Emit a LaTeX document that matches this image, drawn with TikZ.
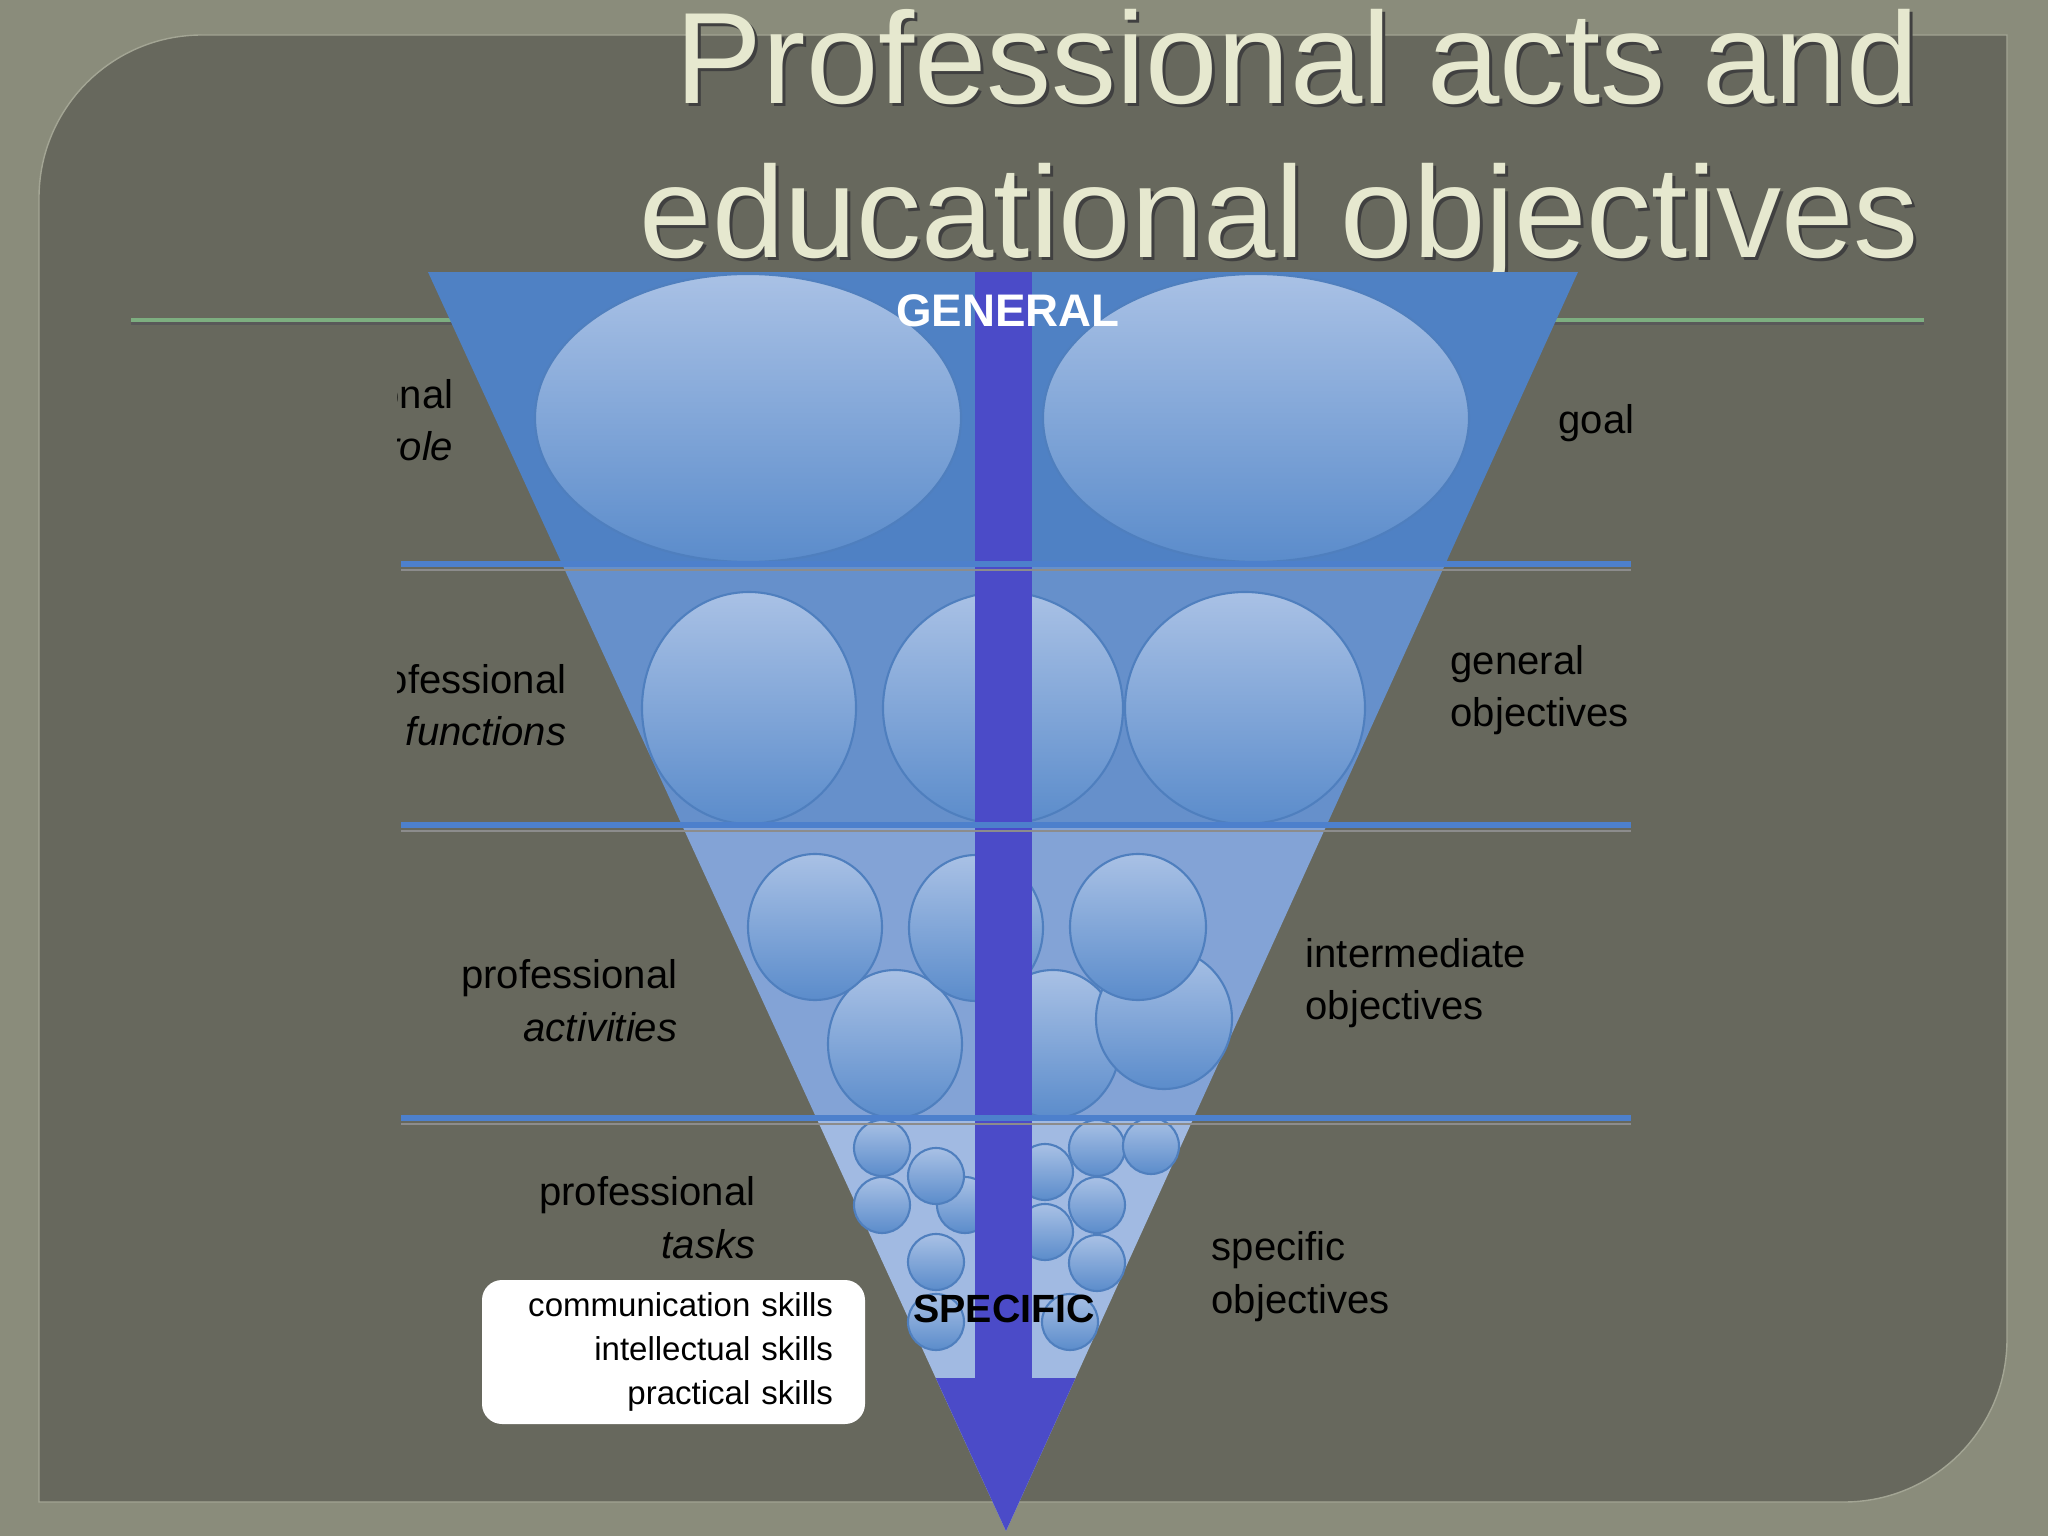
\documentclass[tikz,border=0pt]{standalone}
\usepackage{fontspec}
\setmainfont{Liberation Sans}
\definecolor{bgout}{HTML}{8A8C7B}
\definecolor{panel}{HTML}{67685D}
\definecolor{panelrim}{HTML}{A3A594}
\definecolor{titlec}{HTML}{E6E8CF}
\definecolor{band1}{HTML}{4F81C4}
\definecolor{band2}{HTML}{6690CB}
\definecolor{band3}{HTML}{83A3D6}
\definecolor{band4}{HTML}{A1BAE2}
\definecolor{arrowc}{HTML}{4B4BC8}
\definecolor{bubtop}{HTML}{A9C1E5}
\definecolor{bubbot}{HTML}{5B8CCB}
\definecolor{bubedge}{HTML}{4F7FBE}
\definecolor{lineblue}{HTML}{4D80CC}
\definecolor{greenl}{HTML}{7DAE80}

\begin{document}
\begin{tikzpicture}[
	bub/.style={draw=bubedge, line width=0.6pt, top color=bubtop, bottom color=bubbot},
	lbl/.style={inner sep=0pt, font=\fontsize{11.4}{15}\selectfont, text=black},
	titlefont/.style={inner sep=0pt, anchor=base east, align=right, font=\fontsize{37}{44}\selectfont},
	bandline/.style={draw=lineblue, line width=1.7pt},
	skillbox/.style={fill=white, rounded corners=0.2cm, minimum width=3.83cm, minimum height=1.44cm,
		inner xsep=0.32cm, text width=3.19cm, align=right, font=\fontsize{9.4}{12.4}\selectfont}
	]
	\useasboundingbox (0,0) rectangle (20.48,-15.36);
	\fill[bgout] (0,0) rectangle (20.48,-15.36);
	\fill[panel] (0.39,-15.02) -- (0.39,-1.98) arc[start angle=180,end angle=90,radius=1.63]
		-- (20.07,-0.35) -- (20.07,-13.39) arc[start angle=0,end angle=-90,radius=1.63] -- cycle;
	\draw[panelrim, line width=0.4pt] (0.39,-15.02) -- (0.39,-1.98) arc[start angle=180,end angle=90,radius=1.63]
		-- (20.07,-0.35) -- (20.07,-13.39) arc[start angle=0,end angle=-90,radius=1.63] -- cycle;
	
	% title
	\node[titlefont, text=black!75] (titleshade) at (19.23,-2.61) {Professional acts and\\educational objectives};
	\node[titlefont, text=titlec] (title) at (19.20,-2.58) {Professional acts and\\educational objectives};
	
	\draw[black!65, line width=1pt] (1.31,-3.235) -- (19.24,-3.235);
	\draw[greenl, line width=1pt] (1.31,-3.20) -- (19.24,-3.20);
	
	% funnel
	\begin{scope}
		\clip (4.28,-2.72) -- (15.78,-2.72) -- (10.06,-15.31) -- cycle;
		\fill[band1] (4,-2.72) rectangle (16,-5.64);
		\fill[band2] (4,-5.64) rectangle (16,-8.25);
		\fill[band3] (4,-8.25) rectangle (16,-11.18);
		\fill[band4] (4,-11.18) rectangle (16,-15.4);
	\end{scope}
	
	\path[bub] (7.48,-4.18) ellipse [x radius=2.13, y radius=1.44];
	\path[bub] (12.56,-4.18) ellipse [x radius=2.13, y radius=1.44];
	
	\path[bub] (7.49,-7.08) ellipse [x radius=1.07, y radius=1.16];
	\path[bub] (10.03,-7.08) ellipse [x radius=1.20, y radius=1.16];
	\path[bub] (12.45,-7.08) ellipse [x radius=1.20, y radius=1.16];
	
	\path[bub] (8.95,-10.44) ellipse [x radius=0.67, y radius=0.74];
	\path[bub] (10.53,-10.44) ellipse [x radius=0.67, y radius=0.74];
	\path[bub] (11.64,-10.19) ellipse [x radius=0.68, y radius=0.70];
	\path[bub] (8.15,-9.27) ellipse [x radius=0.67, y radius=0.73];
	\path[bub] (9.76,-9.28) ellipse [x radius=0.67, y radius=0.73];
	\path[bub] (11.38,-9.27) ellipse [x radius=0.68, y radius=0.73];
	
	\foreach \x/\y in {9.65/12.05, 8.82/12.05, 8.82/11.48, 9.36/11.76, 9.36/12.62, 9.36/13.22,
		10.45/11.72, 10.45/12.32, 10.97/11.48, 11.51/11.46, 10.97/12.05, 10.97/12.63, 10.70/13.22}
		\path[bub] (\x,-\y) circle (0.28);
	
	% arrow
	\fill[arrowc] (9.75,-2.72) rectangle (10.32,-13.78);
	\fill[arrowc] (9.358,-13.78) -- (10.755,-13.78) -- (10.06,-15.31) -- cycle;
	
	\foreach \y in {5.64, 8.25, 11.18} {
		\draw[black!45, line width=0.6pt] (4.01,-\y-0.06) -- (16.31,-\y-0.06);
		\draw[bandline] (4.01,-\y) -- (16.31,-\y);
	}
	
	\node[text=white, inner sep=0pt, font=\bfseries\fontsize{13}{15}\selectfont] (general) at (10.08,-3.11) {GENERAL};
	\node[text=black, inner sep=0pt, font=\bfseries\fontsize{11.2}{13}\selectfont] (specific) at (10.04,-13.09) {SPECIFIC};
	
	% acts
	\begin{scope}
		\clip (3.97,-3.3) rectangle (8.5,-13.6);
		\node[lbl, anchor=base east, align=right] (role) at (4.54,-4.61) {professional\\\textit{role}};
		\node[lbl, anchor=base east, align=right] (functions) at (5.67,-7.46) {professional\\\textit{functions}};
		\node[lbl, anchor=base east, align=right] (activities) at (6.78,-10.41) {professional\\\textit{activities}};
		\node[lbl, anchor=base east, align=right] (tasks) at (7.56,-12.58) {professional\\\textit{tasks}};
	\end{scope}
	
	% objectives
	\node[lbl, anchor=base west] (goal) at (15.58,-4.34) {goal};
	\node[lbl, anchor=base west, align=left] (genobj) at (14.50,-7.27) {general\\objectives};
	\node[lbl, anchor=base west, align=left] (intobj) at (13.05,-10.20) {intermediate\\objectives};
	\node[lbl, anchor=base west, align=left] (specobj) at (12.11,-13.13) {specific\\objectives};
	
	\node[skillbox] (skills) at (6.735,-13.52) {communication skills\\intellectual skills\\practical skills};
\end{tikzpicture}
\end{document}
